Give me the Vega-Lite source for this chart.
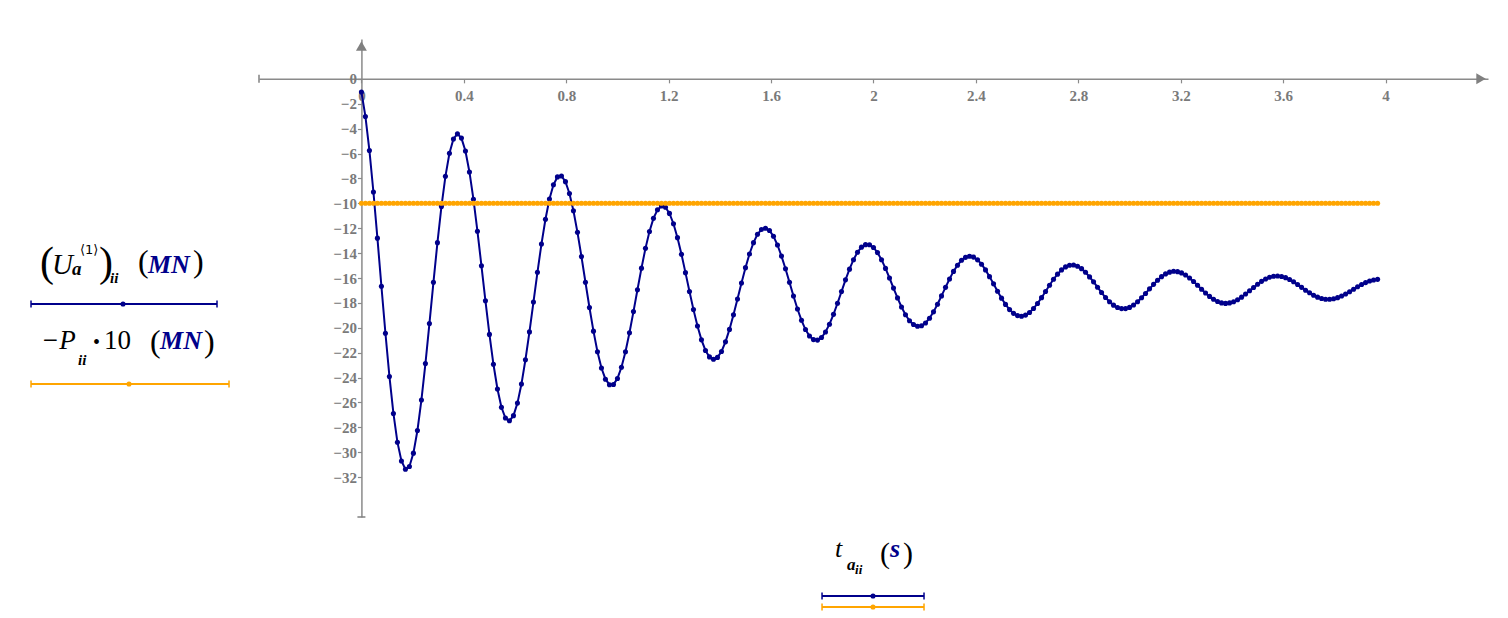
{
"$schema": "https://vega.github.io/schema/vega-lite/v6.json",
"width": 1229,
"height": 478,
"autosize": {"type": "none"},
"padding": {"left": 259, "top": 39, "right": 20, "bottom": 101},
"background": "white",
"config": {
 "view": {"stroke": null},
 "font": "Liberation Serif",
 "axis": {"grid": false, "domainColor": "#8a8a8a", "domainWidth": 1.5, "tickColor": "#8a8a8a", "tickSize": 4, "tickWidth": 1.2, "labelFont": "Liberation Serif", "labelFontSize": 15, "labelFontWeight": "bold", "labelColor": "#7a7a7a", "labelFlush": false, "labelOverlap": false, "labelBound": false},
 "axisX": {"labelPadding": 6},
 "axisY": {"labelPadding": 1}
},
"resolve": {"axis": {"x": "independent", "y": "independent"}},
"data": {"values": [
{"t":0,"u":-1.06,"p":-10},{"t":0.0156,"u":-3.02,"p":-10},{"t":0.0313,"u":-5.76,"p":-10},{"t":0.0469,"u":-9.09,"p":-10},{"t":0.0625,"u":-12.80,"p":-10},{"t":0.0781,"u":-16.66,"p":-10},{"t":0.0938,"u":-20.44,"p":-10},{"t":0.1094,"u":-23.91,"p":-10},{"t":0.125,"u":-26.88,"p":-10},{"t":0.1406,"u":-29.19,"p":-10},{"t":0.1563,"u":-30.70,"p":-10},{"t":0.1719,"u":-31.36,"p":-10},{"t":0.1875,"u":-31.14,"p":-10},{"t":0.2031,"u":-30.07,"p":-10},{"t":0.2188,"u":-28.25,"p":-10},{"t":0.2344,"u":-25.80,"p":-10},
{"t":0.25,"u":-22.87,"p":-10},{"t":0.2656,"u":-19.66,"p":-10},{"t":0.2813,"u":-16.35,"p":-10},{"t":0.2969,"u":-13.16,"p":-10},{"t":0.3125,"u":-10.26,"p":-10},{"t":0.3281,"u":-7.83,"p":-10},{"t":0.3438,"u":-5.98,"p":-10},{"t":0.3594,"u":-4.83,"p":-10},{"t":0.375,"u":-4.42,"p":-10},{"t":0.3906,"u":-4.76,"p":-10},{"t":0.4063,"u":-5.80,"p":-10},{"t":0.4219,"u":-7.48,"p":-10},{"t":0.4375,"u":-9.67,"p":-10},{"t":0.4531,"u":-12.24,"p":-10},{"t":0.4688,"u":-15.02,"p":-10},{"t":0.4844,"u":-17.83,"p":-10},
{"t":0.5,"u":-20.53,"p":-10},{"t":0.5156,"u":-22.93,"p":-10},{"t":0.5313,"u":-24.92,"p":-10},{"t":0.5469,"u":-26.39,"p":-10},{"t":0.5625,"u":-27.25,"p":-10},{"t":0.5781,"u":-27.47,"p":-10},{"t":0.5938,"u":-27.06,"p":-10},{"t":0.6094,"u":-26.05,"p":-10},{"t":0.625,"u":-24.52,"p":-10},{"t":0.6406,"u":-22.57,"p":-10},{"t":0.6563,"u":-20.33,"p":-10},{"t":0.6719,"u":-17.93,"p":-10},{"t":0.6875,"u":-15.54,"p":-10},{"t":0.7031,"u":-13.27,"p":-10},{"t":0.7188,"u":-11.28,"p":-10},{"t":0.7344,"u":-9.66,"p":-10},
{"t":0.75,"u":-8.51,"p":-10},{"t":0.7656,"u":-7.88,"p":-10},{"t":0.7813,"u":-7.80,"p":-10},{"t":0.7969,"u":-8.26,"p":-10},{"t":0.8125,"u":-9.21,"p":-10},{"t":0.8281,"u":-10.60,"p":-10},{"t":0.8438,"u":-12.33,"p":-10},{"t":0.8594,"u":-14.28,"p":-10},{"t":0.875,"u":-16.34,"p":-10},{"t":0.8906,"u":-18.37,"p":-10},{"t":0.9063,"u":-20.27,"p":-10},{"t":0.9219,"u":-21.92,"p":-10},{"t":0.9375,"u":-23.23,"p":-10},{"t":0.9531,"u":-24.13,"p":-10},{"t":0.9688,"u":-24.57,"p":-10},{"t":0.9844,"u":-24.55,"p":-10},
{"t":1,"u":-24.07,"p":-10},{"t":1.0156,"u":-23.17,"p":-10},{"t":1.0313,"u":-21.92,"p":-10},{"t":1.0469,"u":-20.40,"p":-10},{"t":1.0625,"u":-18.70,"p":-10},{"t":1.0781,"u":-16.94,"p":-10},{"t":1.0938,"u":-15.21,"p":-10},{"t":1.1094,"u":-13.62,"p":-10},{"t":1.125,"u":-12.26,"p":-10},{"t":1.1406,"u":-11.21,"p":-10},{"t":1.1563,"u":-10.52,"p":-10},{"t":1.1719,"u":-10.22,"p":-10},{"t":1.1875,"u":-10.32,"p":-10},{"t":1.2031,"u":-10.81,"p":-10},{"t":1.2188,"u":-11.64,"p":-10},{"t":1.2344,"u":-12.76,"p":-10},
{"t":1.25,"u":-14.10,"p":-10},{"t":1.2656,"u":-15.57,"p":-10},{"t":1.2813,"u":-17.08,"p":-10},{"t":1.2969,"u":-18.54,"p":-10},{"t":1.3125,"u":-19.86,"p":-10},{"t":1.3281,"u":-20.97,"p":-10},{"t":1.3438,"u":-21.82,"p":-10},{"t":1.3594,"u":-22.34,"p":-10},{"t":1.375,"u":-22.53,"p":-10},{"t":1.3906,"u":-22.38,"p":-10},{"t":1.4063,"u":-21.90,"p":-10},{"t":1.4219,"u":-21.13,"p":-10},{"t":1.4375,"u":-20.13,"p":-10},{"t":1.4531,"u":-18.96,"p":-10},{"t":1.4688,"u":-17.69,"p":-10},{"t":1.4844,"u":-16.40,"p":-10},
{"t":1.5,"u":-15.17,"p":-10},{"t":1.5156,"u":-14.07,"p":-10},{"t":1.5313,"u":-13.16,"p":-10},{"t":1.5469,"u":-12.49,"p":-10},{"t":1.5625,"u":-12.10,"p":-10},{"t":1.5781,"u":-12.00,"p":-10},{"t":1.5938,"u":-12.19,"p":-10},{"t":1.6094,"u":-12.65,"p":-10},{"t":1.625,"u":-13.35,"p":-10},{"t":1.6406,"u":-14.24,"p":-10},{"t":1.6563,"u":-15.26,"p":-10},{"t":1.6719,"u":-16.35,"p":-10},{"t":1.6875,"u":-17.45,"p":-10},{"t":1.7031,"u":-18.49,"p":-10},{"t":1.7188,"u":-19.40,"p":-10},{"t":1.7344,"u":-20.14,"p":-10},
{"t":1.75,"u":-20.66,"p":-10},{"t":1.7656,"u":-20.95,"p":-10},{"t":1.7813,"u":-20.99,"p":-10},{"t":1.7969,"u":-20.78,"p":-10},{"t":1.8125,"u":-20.34,"p":-10},{"t":1.8281,"u":-19.71,"p":-10},{"t":1.8438,"u":-18.92,"p":-10},{"t":1.8594,"u":-18.03,"p":-10},{"t":1.875,"u":-17.09,"p":-10},{"t":1.8906,"u":-16.15,"p":-10},{"t":1.9063,"u":-15.29,"p":-10},{"t":1.9219,"u":-14.53,"p":-10},{"t":1.9375,"u":-13.93,"p":-10},{"t":1.9531,"u":-13.52,"p":-10},{"t":1.9688,"u":-13.32,"p":-10},{"t":1.9844,"u":-13.33,"p":-10},
{"t":2,"u":-13.55,"p":-10},{"t":2.0156,"u":-13.96,"p":-10},{"t":2.0313,"u":-14.53,"p":-10},{"t":2.0469,"u":-15.23,"p":-10},{"t":2.0625,"u":-16.00,"p":-10},{"t":2.0781,"u":-16.81,"p":-10},{"t":2.0938,"u":-17.60,"p":-10},{"t":2.1094,"u":-18.33,"p":-10},{"t":2.125,"u":-18.95,"p":-10},{"t":2.1406,"u":-19.43,"p":-10},{"t":2.1563,"u":-19.74,"p":-10},{"t":2.1719,"u":-19.88,"p":-10},{"t":2.1875,"u":-19.83,"p":-10},{"t":2.2031,"u":-19.61,"p":-10},{"t":2.2188,"u":-19.23,"p":-10},{"t":2.2344,"u":-18.72,"p":-10},
{"t":2.25,"u":-18.11,"p":-10},{"t":2.2656,"u":-17.44,"p":-10},{"t":2.2813,"u":-16.75,"p":-10},{"t":2.2969,"u":-16.08,"p":-10},{"t":2.3125,"u":-15.47,"p":-10},{"t":2.3281,"u":-14.97,"p":-10},{"t":2.3438,"u":-14.58,"p":-10},{"t":2.3594,"u":-14.34,"p":-10},{"t":2.375,"u":-14.25,"p":-10},{"t":2.3906,"u":-14.32,"p":-10},{"t":2.4063,"u":-14.54,"p":-10},{"t":2.4219,"u":-14.89,"p":-10},{"t":2.4375,"u":-15.35,"p":-10},{"t":2.4531,"u":-15.89,"p":-10},{"t":2.4688,"u":-16.47,"p":-10},{"t":2.4844,"u":-17.06,"p":-10},
{"t":2.5,"u":-17.62,"p":-10},{"t":2.5156,"u":-18.12,"p":-10},{"t":2.5313,"u":-18.54,"p":-10},{"t":2.5469,"u":-18.84,"p":-10},{"t":2.5625,"u":-19.02,"p":-10},{"t":2.5781,"u":-19.07,"p":-10},{"t":2.5938,"u":-18.98,"p":-10},{"t":2.6094,"u":-18.77,"p":-10},{"t":2.625,"u":-18.45,"p":-10},{"t":2.6406,"u":-18.05,"p":-10},{"t":2.6563,"u":-17.58,"p":-10},{"t":2.6719,"u":-17.08,"p":-10},{"t":2.6875,"u":-16.58,"p":-10},{"t":2.7031,"u":-16.10,"p":-10},{"t":2.7188,"u":-15.69,"p":-10},{"t":2.7344,"u":-15.35,"p":-10},
{"t":2.75,"u":-15.11,"p":-10},{"t":2.7656,"u":-14.98,"p":-10},{"t":2.7813,"u":-14.96,"p":-10},{"t":2.7969,"u":-15.06,"p":-10},{"t":2.8125,"u":-15.25,"p":-10},{"t":2.8281,"u":-15.54,"p":-10},{"t":2.8438,"u":-15.91,"p":-10},{"t":2.8594,"u":-16.31,"p":-10},{"t":2.875,"u":-16.74,"p":-10},{"t":2.8906,"u":-17.17,"p":-10},{"t":2.9063,"u":-17.57,"p":-10},{"t":2.9219,"u":-17.91,"p":-10},{"t":2.9375,"u":-18.18,"p":-10},{"t":2.9531,"u":-18.37,"p":-10},{"t":2.9688,"u":-18.46,"p":-10},{"t":2.9844,"u":-18.46,"p":-10},
{"t":3,"u":-18.36,"p":-10},{"t":3.0156,"u":-18.17,"p":-10},{"t":3.0313,"u":-17.91,"p":-10},{"t":3.0469,"u":-17.59,"p":-10},{"t":3.0625,"u":-17.24,"p":-10},{"t":3.0781,"u":-16.87,"p":-10},{"t":3.0938,"u":-16.51,"p":-10},{"t":3.1094,"u":-16.18,"p":-10},{"t":3.125,"u":-15.89,"p":-10},{"t":3.1406,"u":-15.67,"p":-10},{"t":3.1563,"u":-15.53,"p":-10},{"t":3.1719,"u":-15.46,"p":-10},{"t":3.1875,"u":-15.49,"p":-10},{"t":3.2031,"u":-15.59,"p":-10},{"t":3.2188,"u":-15.76,"p":-10},{"t":3.2344,"u":-16.00,"p":-10},
{"t":3.25,"u":-16.28,"p":-10},{"t":3.2656,"u":-16.58,"p":-10},{"t":3.2813,"u":-16.90,"p":-10},{"t":3.2969,"u":-17.20,"p":-10},{"t":3.3125,"u":-17.48,"p":-10},{"t":3.3281,"u":-17.71,"p":-10},{"t":3.3438,"u":-17.89,"p":-10},{"t":3.3594,"u":-18.00,"p":-10},{"t":3.375,"u":-18.04,"p":-10},{"t":3.3906,"u":-18.00,"p":-10},{"t":3.4063,"u":-17.91,"p":-10},{"t":3.4219,"u":-17.75,"p":-10},{"t":3.4375,"u":-17.54,"p":-10},{"t":3.4531,"u":-17.29,"p":-10},{"t":3.4688,"u":-17.03,"p":-10},{"t":3.4844,"u":-16.76,"p":-10},
{"t":3.5,"u":-16.50,"p":-10},{"t":3.5156,"u":-16.27,"p":-10},{"t":3.5313,"u":-16.08,"p":-10},{"t":3.5469,"u":-15.94,"p":-10},{"t":3.5625,"u":-15.86,"p":-10},{"t":3.5781,"u":-15.84,"p":-10},{"t":3.5938,"u":-15.88,"p":-10},{"t":3.6094,"u":-15.97,"p":-10},{"t":3.625,"u":-16.12,"p":-10},{"t":3.6406,"u":-16.30,"p":-10},{"t":3.6563,"u":-16.52,"p":-10},{"t":3.6719,"u":-16.75,"p":-10},{"t":3.6875,"u":-16.98,"p":-10},{"t":3.7031,"u":-17.19,"p":-10},{"t":3.7188,"u":-17.38,"p":-10},{"t":3.7344,"u":-17.54,"p":-10},
{"t":3.75,"u":-17.65,"p":-10},{"t":3.7656,"u":-17.71,"p":-10},{"t":3.7813,"u":-17.71,"p":-10},{"t":3.7969,"u":-17.67,"p":-10},{"t":3.8125,"u":-17.58,"p":-10},{"t":3.8281,"u":-17.45,"p":-10},{"t":3.8438,"u":-17.28,"p":-10},{"t":3.8594,"u":-17.10,"p":-10},{"t":3.875,"u":-16.90,"p":-10},{"t":3.8906,"u":-16.70,"p":-10},{"t":3.9063,"u":-16.52,"p":-10},{"t":3.9219,"u":-16.37,"p":-10},{"t":3.9375,"u":-16.24,"p":-10},{"t":3.9531,"u":-16.16,"p":-10},{"t":3.9688,"u":-16.11,"p":-10}
]},
"layer": [
{"mark": {"type": "line", "color": "#00008b", "strokeWidth": 2, "point": {"filled": true, "size": 26, "color": "#00008b"}},
 "encoding": {
  "x": {"field": "t", "type": "quantitative", "scale": {"domain": [-0.4, 4.4], "nice": false, "zero": false},
   "axis": {"orient": "bottom", "offset": -438.17, "values": [0, 0.4, 0.8, 1.2, 1.6, 2, 2.4, 2.8, 3.2, 3.6, 4], "format": "~g", "title": null, "grid": false, "domainColor": "#8a8a8a", "domainWidth": 1.5, "tickColor": "#8a8a8a", "tickSize": 4, "tickWidth": 1.2, "labelFont": "Liberation Serif", "labelFontSize": 15, "labelFontWeight": "bold", "labelColor": "#7a7a7a", "labelPadding": 6, "labelFlush": false, "labelOverlap": false, "zindex": 0}},
  "y": {"field": "u", "type": "quantitative", "scale": {"domain": [-35.2, 3.2], "nice": false, "zero": false},
   "axis": {"orient": "left", "offset": -102.42, "values": [0, -2, -4, -6, -8, -10, -12, -14, -16, -18, -20, -22, -24, -26, -28, -30, -32], "format": "d", "title": null, "grid": false, "domainColor": "#8a8a8a", "domainWidth": 1.5, "tickColor": "#8a8a8a", "tickSize": 4, "tickWidth": 1.2, "labelFont": "Liberation Serif", "labelFontSize": 15, "labelFontWeight": "bold", "labelColor": "#7a7a7a", "labelPadding": 1, "labelFlush": false, "labelOverlap": false, "zindex": 0}}
 }},
{"mark": {"type": "line", "color": "#ffa500", "strokeWidth": 2, "point": {"filled": true, "size": 26, "color": "#ffa500"}},
 "encoding": {"x": {"field": "t", "type": "quantitative", "axis": null}, "y": {"field": "p", "type": "quantitative", "axis": null}}},

{"data": {"values": [{}]}, "mark": {"type": "point", "shape": "triangle-up", "filled": true, "color": "#808080", "size": 120, "opacity": 1},
 "encoding": {"x": {"datum": 0, "type": "quantitative", "axis": null}, "y": {"datum": 2.637, "type": "quantitative", "axis": null}}},
{"data": {"values": [{}]}, "mark": {"type": "point", "shape": "triangle-right", "filled": true, "color": "#808080", "size": 120, "opacity": 1},
 "encoding": {"x": {"datum": 4.3728, "type": "quantitative", "axis": null}, "y": {"datum": 0, "type": "quantitative", "axis": null}}},
{"data": {"values": [{}]}, "mark": {"type": "tick", "orient": "vertical", "size": 8, "thickness": 1.5, "color": "#808080", "opacity": 1},
 "encoding": {"x": {"datum": -0.4, "type": "quantitative", "axis": null}, "y": {"datum": 0, "type": "quantitative", "axis": null}}},
{"data": {"values": [{}]}, "mark": {"type": "tick", "orient": "horizontal", "size": 8, "thickness": 1.5, "color": "#808080", "opacity": 1},
 "encoding": {"x": {"datum": 0, "type": "quantitative", "axis": null}, "y": {"datum": -35.2, "type": "quantitative", "axis": null}}},

{"data": {"values": [{}]}, "mark": {"type": "rule", "color": "#00008b", "strokeWidth": 2},
 "encoding": {"x": {"datum": -1.2904, "type": "quantitative", "axis": null}, "x2": {"datum": -0.5640}, "y": {"datum": -18.089, "type": "quantitative", "axis": null}}},
{"data": {"values": [{}]}, "mark": {"type": "tick", "orient": "vertical", "size": 7, "thickness": 1.5, "color": "#00008b", "opacity": 1},
 "encoding": {"x": {"datum": -1.2904, "type": "quantitative", "axis": null}, "y": {"datum": -18.089, "type": "quantitative", "axis": null}}},
{"data": {"values": [{}]}, "mark": {"type": "tick", "orient": "vertical", "size": 7, "thickness": 1.5, "color": "#00008b", "opacity": 1},
 "encoding": {"x": {"datum": -0.5640, "type": "quantitative", "axis": null}, "y": {"datum": -18.089, "type": "quantitative", "axis": null}}},
{"data": {"values": [{}]}, "mark": {"type": "point", "filled": true, "size": 26, "color": "#00008b", "opacity": 1},
 "encoding": {"x": {"datum": -0.9311, "type": "quantitative", "axis": null}, "y": {"datum": -18.089, "type": "quantitative", "axis": null}}},

{"data": {"values": [{}]}, "mark": {"type": "rule", "color": "#ffa500", "strokeWidth": 2},
 "encoding": {"x": {"datum": -1.2904, "type": "quantitative", "axis": null}, "x2": {"datum": -0.5171}, "y": {"datum": -24.515, "type": "quantitative", "axis": null}}},
{"data": {"values": [{}]}, "mark": {"type": "tick", "orient": "vertical", "size": 7, "thickness": 1.5, "color": "#ffa500", "opacity": 1},
 "encoding": {"x": {"datum": -1.2904, "type": "quantitative", "axis": null}, "y": {"datum": -24.515, "type": "quantitative", "axis": null}}},
{"data": {"values": [{}]}, "mark": {"type": "tick", "orient": "vertical", "size": 7, "thickness": 1.5, "color": "#ffa500", "opacity": 1},
 "encoding": {"x": {"datum": -0.5171, "type": "quantitative", "axis": null}, "y": {"datum": -24.515, "type": "quantitative", "axis": null}}},
{"data": {"values": [{}]}, "mark": {"type": "point", "filled": true, "size": 26, "color": "#ffa500", "opacity": 1},
 "encoding": {"x": {"datum": -0.9077, "type": "quantitative", "axis": null}, "y": {"datum": -24.515, "type": "quantitative", "axis": null}}},

{"data": {"values": [{}]}, "mark": {"type": "rule", "color": "#00008b", "strokeWidth": 2},
 "encoding": {"x": {"datum": 1.7990, "type": "quantitative", "axis": null}, "x2": {"datum": 2.1973}, "y": {"datum": -41.546, "type": "quantitative", "axis": null}}},
{"data": {"values": [{}]}, "mark": {"type": "tick", "orient": "vertical", "size": 7, "thickness": 1.5, "color": "#00008b", "opacity": 1},
 "encoding": {"x": {"datum": 1.7990, "type": "quantitative", "axis": null}, "y": {"datum": -41.546, "type": "quantitative", "axis": null}}},
{"data": {"values": [{}]}, "mark": {"type": "tick", "orient": "vertical", "size": 7, "thickness": 1.5, "color": "#00008b", "opacity": 1},
 "encoding": {"x": {"datum": 2.1973, "type": "quantitative", "axis": null}, "y": {"datum": -41.546, "type": "quantitative", "axis": null}}},
{"data": {"values": [{}]}, "mark": {"type": "point", "filled": true, "size": 26, "color": "#00008b", "opacity": 1},
 "encoding": {"x": {"datum": 1.9981, "type": "quantitative", "axis": null}, "y": {"datum": -41.546, "type": "quantitative", "axis": null}}},

{"data": {"values": [{}]}, "mark": {"type": "rule", "color": "#ffa500", "strokeWidth": 2},
 "encoding": {"x": {"datum": 1.7990, "type": "quantitative", "axis": null}, "x2": {"datum": 2.1973}, "y": {"datum": -42.430, "type": "quantitative", "axis": null}}},
{"data": {"values": [{}]}, "mark": {"type": "tick", "orient": "vertical", "size": 7, "thickness": 1.5, "color": "#ffa500", "opacity": 1},
 "encoding": {"x": {"datum": 1.7990, "type": "quantitative", "axis": null}, "y": {"datum": -42.430, "type": "quantitative", "axis": null}}},
{"data": {"values": [{}]}, "mark": {"type": "tick", "orient": "vertical", "size": 7, "thickness": 1.5, "color": "#ffa500", "opacity": 1},
 "encoding": {"x": {"datum": 2.1973, "type": "quantitative", "axis": null}, "y": {"datum": -42.430, "type": "quantitative", "axis": null}}},
{"data": {"values": [{}]}, "mark": {"type": "point", "filled": true, "size": 26, "color": "#ffa500", "opacity": 1},
 "encoding": {"x": {"datum": 1.9981, "type": "quantitative", "axis": null}, "y": {"datum": -42.430, "type": "quantitative", "axis": null}}},

{"data": {"values": [{}]}, "mark": {"type": "text", "text": "(", "align": "left", "baseline": "alphabetic", "font": "Liberation Serif", "fontSize": 42, "color": "#000000"},
 "encoding": {"x": {"datum": -1.2553, "type": "quantitative", "axis": null}, "y": {"datum": -15.840, "type": "quantitative", "axis": null}}},
{"data": {"values": [{}]}, "mark": {"type": "text", "text": "U", "align": "left", "baseline": "alphabetic", "font": "Liberation Serif", "fontSize": 29, "fontStyle": "italic", "color": "#000000"},
 "encoding": {"x": {"datum": -1.2084, "type": "quantitative", "axis": null}, "y": {"datum": -15.679, "type": "quantitative", "axis": null}}},
{"data": {"values": [{}]}, "mark": {"type": "text", "text": "a", "align": "left", "baseline": "alphabetic", "font": "Liberation Serif", "fontSize": 19, "fontStyle": "italic", "fontWeight": "bold", "color": "#000000"},
 "encoding": {"x": {"datum": -1.1303, "type": "quantitative", "axis": null}, "y": {"datum": -15.759, "type": "quantitative", "axis": null}}},
{"data": {"values": [{}]}, "mark": {"type": "text", "text": "⟨1⟩", "align": "left", "baseline": "alphabetic", "font": "DejaVu Sans", "fontSize": 13, "color": "#000000"},
 "encoding": {"x": {"datum": -1.0991, "type": "quantitative", "axis": null}, "y": {"datum": -14.072, "type": "quantitative", "axis": null}}},
{"data": {"values": [{}]}, "mark": {"type": "text", "text": ")", "align": "left", "baseline": "alphabetic", "font": "Liberation Serif", "fontSize": 42, "color": "#000000"},
 "encoding": {"x": {"datum": -1.0248, "type": "quantitative", "axis": null}, "y": {"datum": -15.840, "type": "quantitative", "axis": null}}},
{"data": {"values": [{}]}, "mark": {"type": "text", "text": "ii", "align": "left", "baseline": "alphabetic", "font": "Liberation Serif", "fontSize": 15, "fontStyle": "italic", "fontWeight": "bold", "color": "#000000"},
 "encoding": {"x": {"datum": -0.9819, "type": "quantitative", "axis": null}, "y": {"datum": -16.402, "type": "quantitative", "axis": null}}},
{"data": {"values": [{}]}, "mark": {"type": "text", "text": "(", "align": "left", "baseline": "alphabetic", "font": "Liberation Serif", "fontSize": 32, "color": "#000000"},
 "encoding": {"x": {"datum": -0.8725, "type": "quantitative", "axis": null}, "y": {"datum": -15.518, "type": "quantitative", "axis": null}}},
{"data": {"values": [{}]}, "mark": {"type": "text", "text": "MN", "align": "left", "baseline": "alphabetic", "font": "Liberation Serif", "fontSize": 26, "fontStyle": "italic", "fontWeight": "bold", "color": "#00008b"},
 "encoding": {"x": {"datum": -0.8335, "type": "quantitative", "axis": null}, "y": {"datum": -15.598, "type": "quantitative", "axis": null}}},
{"data": {"values": [{}]}, "mark": {"type": "text", "text": ")", "align": "left", "baseline": "alphabetic", "font": "Liberation Serif", "fontSize": 32, "color": "#000000"},
 "encoding": {"x": {"datum": -0.6577, "type": "quantitative", "axis": null}, "y": {"datum": -15.518, "type": "quantitative", "axis": null}}},

{"data": {"values": [{}]}, "mark": {"type": "text", "text": "−P", "align": "left", "baseline": "alphabetic", "font": "Liberation Serif", "fontSize": 27, "fontStyle": "italic", "color": "#000000"},
 "encoding": {"x": {"datum": -1.2514, "type": "quantitative", "axis": null}, "y": {"datum": -21.704, "type": "quantitative", "axis": null}}},
{"data": {"values": [{}]}, "mark": {"type": "text", "text": "ii", "align": "left", "baseline": "alphabetic", "font": "Liberation Serif", "fontSize": 15, "fontStyle": "italic", "fontWeight": "bold", "color": "#000000"},
 "encoding": {"x": {"datum": -1.1069, "type": "quantitative", "axis": null}, "y": {"datum": -22.989, "type": "quantitative", "axis": null}}},
{"data": {"values": [{}]}, "mark": {"type": "text", "text": "•", "align": "left", "baseline": "alphabetic", "font": "Liberation Serif", "fontSize": 20, "color": "#000000"},
 "encoding": {"x": {"datum": -1.0483, "type": "quantitative", "axis": null}, "y": {"datum": -21.704, "type": "quantitative", "axis": null}}},
{"data": {"values": [{}]}, "mark": {"type": "text", "text": "10", "align": "left", "baseline": "alphabetic", "font": "Liberation Serif", "fontSize": 27, "color": "#000000"},
 "encoding": {"x": {"datum": -1.0053, "type": "quantitative", "axis": null}, "y": {"datum": -21.704, "type": "quantitative", "axis": null}}},
{"data": {"values": [{}]}, "mark": {"type": "text", "text": "(", "align": "left", "baseline": "alphabetic", "font": "Liberation Serif", "fontSize": 32, "color": "#000000"},
 "encoding": {"x": {"datum": -0.8256, "type": "quantitative", "axis": null}, "y": {"datum": -21.945, "type": "quantitative", "axis": null}}},
{"data": {"values": [{}]}, "mark": {"type": "text", "text": "MN", "align": "left", "baseline": "alphabetic", "font": "Liberation Serif", "fontSize": 26, "fontStyle": "italic", "fontWeight": "bold", "color": "#00008b"},
 "encoding": {"x": {"datum": -0.7866, "type": "quantitative", "axis": null}, "y": {"datum": -21.704, "type": "quantitative", "axis": null}}},
{"data": {"values": [{}]}, "mark": {"type": "text", "text": ")", "align": "left", "baseline": "alphabetic", "font": "Liberation Serif", "fontSize": 32, "color": "#000000"},
 "encoding": {"x": {"datum": -0.6147, "type": "quantitative", "axis": null}, "y": {"datum": -21.945, "type": "quantitative", "axis": null}}},

{"data": {"values": [{}]}, "mark": {"type": "text", "text": "t", "align": "left", "baseline": "alphabetic", "font": "Liberation Serif", "fontSize": 26, "fontStyle": "italic", "color": "#000000"},
 "encoding": {"x": {"datum": 1.8497, "type": "quantitative", "axis": null}, "y": {"datum": -38.413, "type": "quantitative", "axis": null}}},
{"data": {"values": [{}]}, "mark": {"type": "text", "text": "a", "align": "left", "baseline": "alphabetic", "font": "Liberation Serif", "fontSize": 17, "fontStyle": "italic", "fontWeight": "bold", "color": "#000000"},
 "encoding": {"x": {"datum": 1.8966, "type": "quantitative", "axis": null}, "y": {"datum": -39.458, "type": "quantitative", "axis": null}}},
{"data": {"values": [{}]}, "mark": {"type": "text", "text": "ii", "align": "left", "baseline": "alphabetic", "font": "Liberation Serif", "fontSize": 13, "fontStyle": "italic", "fontWeight": "bold", "color": "#000000"},
 "encoding": {"x": {"datum": 1.9278, "type": "quantitative", "axis": null}, "y": {"datum": -39.779, "type": "quantitative", "axis": null}}},
{"data": {"values": [{}]}, "mark": {"type": "text", "text": "(", "align": "left", "baseline": "alphabetic", "font": "Liberation Serif", "fontSize": 30, "color": "#000000"},
 "encoding": {"x": {"datum": 2.0254, "type": "quantitative", "axis": null}, "y": {"datum": -38.896, "type": "quantitative", "axis": null}}},
{"data": {"values": [{}]}, "mark": {"type": "text", "text": "s", "align": "left", "baseline": "alphabetic", "font": "Liberation Serif", "fontSize": 26, "fontStyle": "italic", "fontWeight": "bold", "color": "#00008b"},
 "encoding": {"x": {"datum": 2.0645, "type": "quantitative", "axis": null}, "y": {"datum": -38.413, "type": "quantitative", "axis": null}}},
{"data": {"values": [{}]}, "mark": {"type": "text", "text": ")", "align": "left", "baseline": "alphabetic", "font": "Liberation Serif", "fontSize": 30, "color": "#000000"},
 "encoding": {"x": {"datum": 2.1153, "type": "quantitative", "axis": null}, "y": {"datum": -38.896, "type": "quantitative", "axis": null}}}
]
}
